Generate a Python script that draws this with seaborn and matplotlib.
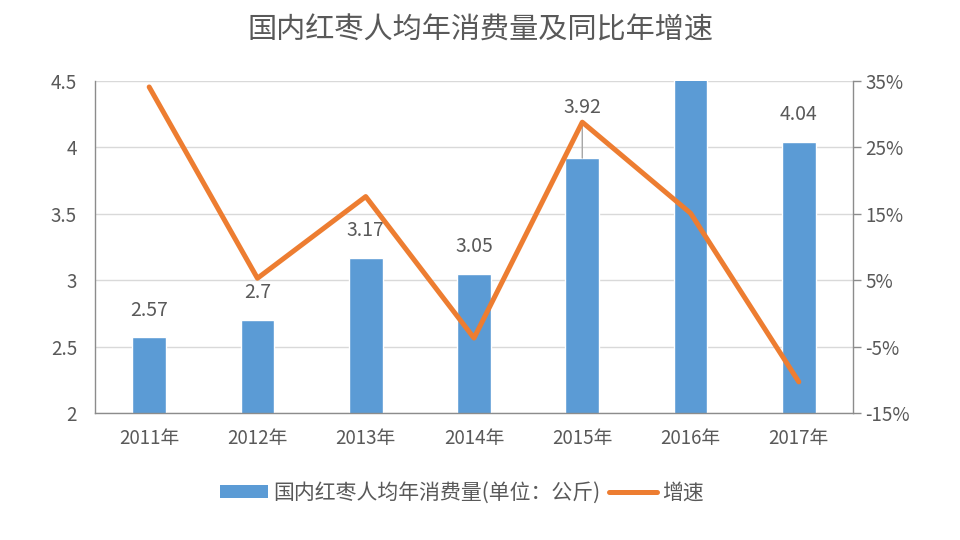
import matplotlib
matplotlib.use("Agg")
import matplotlib.pyplot as plt
import seaborn as sns
import numpy as np
import pandas as pd
from matplotlib.patches import Patch
from matplotlib.lines import Line2D

years = ["2011年", "2012年", "2013年", "2014年", "2015年", "2016年", "2017年"]
consumption = [2.57, 2.70, 3.17, 3.05, 3.92, 4.52, 4.04]
growth = [34.1, 5.3, 17.6, -3.7, 28.8, 15.1, -10.3]
label_shown = [True, True, True, True, True, False, True]

sns.set_theme(style="white")
plt.rcParams['font.family'] = ['Noto Sans CJK SC', 'DejaVu Sans']

TXT = "#595959"
BLUE = "#5B9BD5"
ORANGE = "#ED7D31"

fig = plt.figure(figsize=(9.6, 5.4), dpi=100)
ax = fig.add_axes([0.099, 0.235, 0.7895, 0.615])

df = pd.DataFrame({"year": years, "value": consumption})
sns.barplot(data=df, x="year", y="value", color=BLUE, width=0.31, ax=ax,
            saturation=1, zorder=2)
ax.set_ylim(2, 4.5)
ax.set_yticks([2, 2.5, 3, 3.5, 4, 4.5])
ax.set_yticklabels(["2", "2.5", "3", "3.5", "4", "4.5"])
ax.set_xlim(-0.5, 6.5)
ax.set_xlabel("")
ax.set_ylabel("")
ax.yaxis.grid(True, color="#D9D9D9", linewidth=1, zorder=0)
ax.set_axisbelow(True)
for s in ["top", "right"]:
    ax.spines[s].set_visible(False)
for s in ["left", "bottom"]:
    ax.spines[s].set_color("#8C8C8C")
    ax.spines[s].set_linewidth(1)
ax.tick_params(axis="y", colors=TXT, labelsize=13.5, length=0, pad=13)
ax.tick_params(axis="x", colors=TXT, labelsize=13.5, length=0, pad=11)
for lab in ax.get_xticklabels() + ax.get_yticklabels():
    lab.set_color(TXT)

# data labels
for i, (v, show) in enumerate(zip(consumption, label_shown)):
    if not show:
        continue
    if i == 4:
        ax.annotate(f"{v:g}", xy=(i, v), xytext=(i, 4.22), ha="center", va="bottom",
                    fontsize=14, color=TXT,
                    arrowprops=dict(arrowstyle="-", color="#A6A6A6", lw=1, shrinkA=0, shrinkB=0))
    else:
        ax.annotate(f"{v:g}", xy=(i, v), xytext=(0, 12), textcoords="offset points",
                    ha="center", va="bottom", fontsize=14, color=TXT)

ax2 = ax.twinx()
sns.lineplot(x=np.arange(len(years)), y=growth, color=ORANGE, linewidth=3.6,
             ax=ax2, zorder=3)
ax2.set_ylim(-15, 35)
ax2.set_yticks([-15, -5, 5, 15, 25, 35])
ax2.set_yticklabels(["-15%", "-5%", "5%", "15%", "25%", "35%"])
ax2.set_xlim(-0.5, 6.5)
for s in ["top", "left", "bottom"]:
    ax2.spines[s].set_visible(False)
ax2.spines["right"].set_color("#8C8C8C")
ax2.spines["right"].set_linewidth(1)
ax2.tick_params(axis="y", colors=TXT, labelsize=13.5, length=6, width=1,
                direction="out", pad=3)
ax2.tick_params(axis="y", which="major", color="#8C8C8C")
for lab in ax2.get_yticklabels():
    lab.set_color(TXT)
ax2.set_ylabel("")

fig.text(0.5, 0.944, "国内红枣人均年消费量及同比年增速", ha="center", va="center",
         fontsize=21, color=TXT)

handles = [Patch(facecolor=BLUE, edgecolor="none"),
           Line2D([0], [0], color=ORANGE, linewidth=3.6)]
fig.legend(handles, ["国内红枣人均年消费量(单位：公斤)", "增速"],
           loc="center", bbox_to_anchor=(0.481, 0.087), ncol=2, frameon=False,
           fontsize=15, labelcolor=TXT, handlelength=2.3, handleheight=0.6,
           handletextpad=0.25, columnspacing=0.4)

fig.savefig("out.png", dpi=100)
